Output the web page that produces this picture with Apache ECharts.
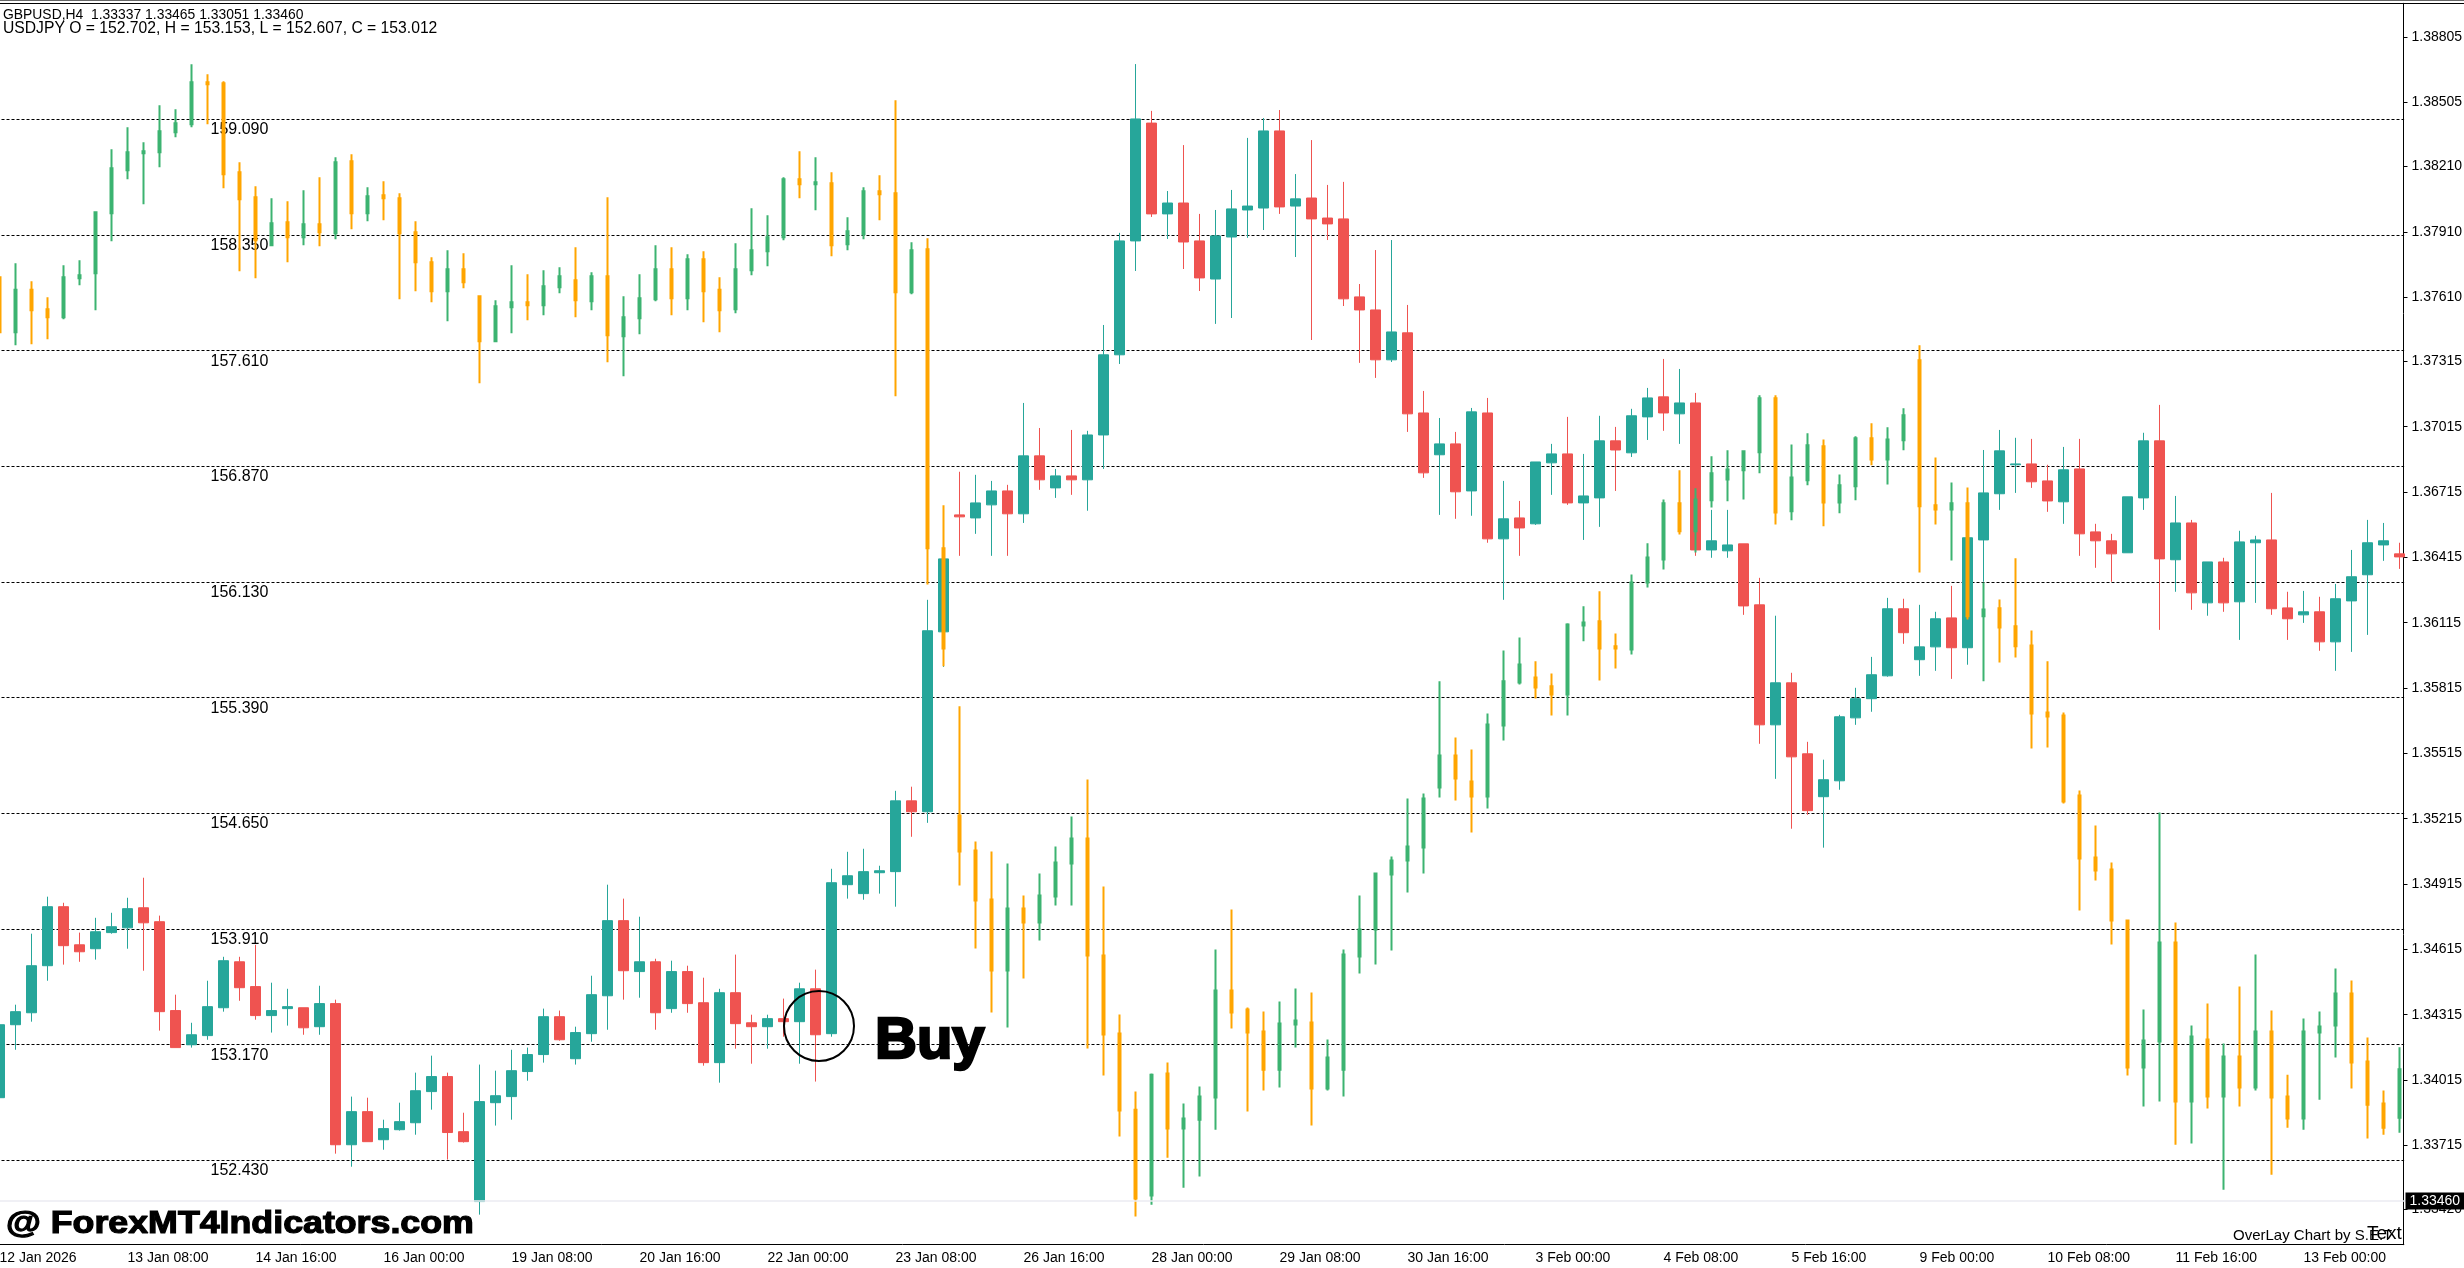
<!DOCTYPE html>
<html>
<head>
<meta charset="utf-8">
<title>GBPUSD,H4 overlay USDJPY</title>
<script src="https://cdn.jsdelivr.net/npm/echarts@6/dist/echarts.min.js"></script>
<style>
  html, body { margin: 0; padding: 0; background: #fff; }
  #chart { width: 2464px; height: 1268px; }
</style>
</head>
<body>
<div id="chart"></div>
<script>
// time axis labels, one every 8 H4 bars
var tickLabels = ["12 Jan 2026", "13 Jan 08:00", "14 Jan 16:00", "16 Jan 00:00", "19 Jan 08:00", "20 Jan 16:00",
  "22 Jan 00:00", "23 Jan 08:00", "26 Jan 16:00", "28 Jan 00:00", "29 Jan 08:00", "30 Jan 16:00", "3 Feb 00:00",
  "4 Feb 08:00", "5 Feb 16:00", "9 Feb 00:00", "10 Feb 08:00", "11 Feb 16:00", "13 Feb 00:00"];

// right axis
var priceTicks = [1.38805, 1.38505, 1.3821, 1.3791, 1.3761, 1.37315, 1.37015, 1.36715, 1.36415, 1.36115,
  1.35815, 1.35515, 1.35215, 1.34915, 1.34615, 1.34315, 1.34015, 1.33715, 1.3342];
var lastPrice = 1.3346;

// levels of the overlay (dotted lines with labels)
var yenLevels = [159.09, 158.35, 157.61, 156.87, 156.13, 155.39, 154.65, 153.91, 153.17, 152.43];

// rows are [open, close, low, high]
var gbpBars = [
  [1.33934,1.34269,1.33934,1.34292],[1.34269,1.34329,1.34154,1.34361],[1.34324,1.34540,1.34283,1.34687],[1.34540,1.34811,1.34471,1.34857],
  [1.34811,1.34632,1.34545,1.34829],[1.34636,1.34604,1.34558,1.34692],[1.34618,1.34696,1.34568,1.34760],[1.34692,1.34719,1.34687,1.34783],
  [1.34714,1.34802,1.34618,1.34852],[1.34806,1.34737,1.34517,1.34944],[1.34742,1.34329,1.34242,1.34770],[1.34334,1.34164,1.34164,1.34407],
  [1.34177,1.34223,1.34164,1.34278],[1.34219,1.34352,1.34200,1.34471],[1.34347,1.34563,1.34329,1.34581],[1.34558,1.34439,1.34379,1.34581],
  [1.34444,1.34311,1.34292,1.34636],[1.34311,1.34334,1.34233,1.34462],[1.34343,1.34352,1.34265,1.34434],[1.34347,1.34255,1.34223,1.34347],
  [1.34260,1.34366,1.34223,1.34448],[1.34366,1.33718,1.33677,1.34384],[1.33718,1.33870,1.33617,1.33939],[1.33870,1.33732,1.33732,1.33934],
  [1.33741,1.33792,1.33695,1.33833],[1.33787,1.33824,1.33783,1.33911],[1.33819,1.33966,1.33764,1.34049],[1.33962,1.34031,1.33879,1.34127],
  [1.34031,1.33774,1.33650,1.34049],[1.33778,1.33732,1.33728,1.33865],[1.33457,1.33916,1.33397,1.34086],[1.33911,1.33943,1.33806,1.34058],
  [1.33939,1.34058,1.33833,1.34154],[1.34054,1.34132,1.34012,1.34164],[1.34132,1.34306,1.34095,1.34343],[1.34306,1.34200,1.34196,1.34334],
  [1.34113,1.34233,1.34086,1.34260],[1.34228,1.34407,1.34191,1.34494],[1.34402,1.34747,1.34246,1.34912],[1.34747,1.34517,1.34384,1.34848],
  [1.34513,1.34558,1.34393,1.34765],[1.34558,1.34324,1.34246,1.34572],[1.34343,1.34513,1.34324,1.34563],[1.34513,1.34366,1.34324,1.34540],
  [1.34370,1.34095,1.34081,1.34485],[1.34095,1.34416,1.34003,1.34434],[1.34416,1.34274,1.34159,1.34591],[1.34278,1.34260,1.34090,1.34315],
  [1.34260,1.34297,1.34159,1.34315],[1.34297,1.34283,1.34214,1.34389],[1.34283,1.34434,1.34090,1.34462],[1.34434,1.34223,1.34008,1.34522],
  [1.34228,1.34921,1.34214,1.34985],[1.34912,1.34953,1.34848,1.35063],[1.34871,1.34972,1.34843,1.35077],[1.34967,1.34976,1.34871,1.34999],
  [1.34972,1.35297,1.34811,1.35343],[1.35297,1.35247,1.35132,1.35362],[1.35247,1.36078,1.35196,1.36220],[1.36073,1.36408,1.35912,1.36495],
  [1.36610,1.36601,1.36422,1.36808],[1.36596,1.36665,1.36523,1.36794],[1.36656,1.36720,1.36422,1.36766],[1.36720,1.36615,1.36422,1.36748],
  [1.36615,1.36881,1.36573,1.37124],[1.36881,1.36771,1.36725,1.37009],[1.36734,1.36789,1.36688,1.36821],[1.36789,1.36771,1.36702,1.37000],
  [1.36771,1.36977,1.36629,1.36996],[1.36977,1.37345,1.36821,1.37482],[1.37345,1.37868,1.37303,1.37905],[1.37868,1.38428,1.37730,1.38680],
  [1.38409,1.37992,1.37978,1.38465],[1.37992,1.38042,1.37877,1.38097],[1.38042,1.37863,1.37739,1.38308],[1.37868,1.37698,1.37638,1.37992],
  [1.37693,1.37891,1.37487,1.38010],[1.37886,1.38015,1.37514,1.38102],[1.38010,1.38028,1.37882,1.38341],[1.38019,1.38373,1.37918,1.38432],
  [1.38373,1.38024,1.37992,1.38469],[1.38028,1.38061,1.37794,1.38175],[1.38065,1.37969,1.37413,1.38331],[1.37973,1.37946,1.37872,1.38125],
  [1.37969,1.37602,1.37569,1.38139],[1.37611,1.37551,1.37308,1.37670],[1.37551,1.37322,1.37239,1.37826],[1.37322,1.37450,1.37312,1.37872],
  [1.37446,1.37074,1.36991,1.37574],[1.37078,1.36803,1.36780,1.37179],[1.36886,1.36936,1.36610,1.37055],[1.36936,1.36716,1.36592,1.36991],
  [1.36720,1.37083,1.36606,1.37101],[1.37078,1.36500,1.36482,1.37147],[1.36500,1.36592,1.36220,1.36766],[1.36596,1.36550,1.36422,1.36674],
  [1.36569,1.36853,1.36564,1.36853],[1.36849,1.36890,1.36702,1.36936],[1.36890,1.36665,1.36656,1.37060],[1.36665,1.36697,1.36495,1.36890],
  [1.36688,1.36950,1.36555,1.37065],[1.36950,1.36908,1.36720,1.37014],[1.36895,1.37065,1.36876,1.37097],[1.37060,1.37147,1.36954,1.37193],
  [1.37152,1.37078,1.36996,1.37326],[1.37074,1.37124,1.36936,1.37280],[1.37124,1.36449,1.36422,1.37170],[1.36449,1.36491,1.36413,1.36633],
  [1.36445,1.36472,1.36413,1.36633],[1.36477,1.36192,1.36151,1.36477],[1.36197,1.35646,1.35559,1.36321],[1.35646,1.35839,1.35398,1.36147],
  [1.35839,1.35499,1.35169,1.35885],[1.35513,1.35252,1.35233,1.35568],[1.35316,1.35394,1.35082,1.35486],[1.35389,1.35683,1.35348,1.35692],
  [1.35678,1.35766,1.35646,1.35816],[1.35766,1.35876,1.35706,1.35958],[1.35871,1.36179,1.35867,1.36229],[1.36179,1.36069,1.36018,1.36225],
  [1.35945,1.36004,1.35871,1.36197],[1.36004,1.36133,1.35894,1.36165],[1.36137,1.36000,1.35857,1.36284],[1.36000,1.36505,1.35922,1.36505],
  [1.36495,1.36711,1.36303,1.36908],[1.36707,1.36904,1.36633,1.37000],[1.36840,1.36844,1.36711,1.36964],[1.36844,1.36762,1.36734,1.36959],
  [1.36766,1.36674,1.36624,1.36840],[1.36670,1.36817,1.36569,1.36922],[1.36821,1.36523,1.36422,1.36959],[1.36532,1.36491,1.36367,1.36569],
  [1.36491,1.36431,1.36303,1.36523],[1.36436,1.36693,1.36436,1.36693],[1.36688,1.36950,1.36633,1.36987],[1.36950,1.36408,1.36082,1.37115],
  [1.36404,1.36573,1.36257,1.36697],[1.36573,1.36252,1.36174,1.36587],[1.36206,1.36394,1.36147,1.36394],[1.36394,1.36206,1.36165,1.36413],
  [1.36211,1.36486,1.36036,1.36537],[1.36482,1.36495,1.36206,1.36514],[1.36495,1.36179,1.36151,1.36711],[1.36183,1.36133,1.36036,1.36257],
  [1.36151,1.36165,1.36114,1.36261],[1.36165,1.36027,1.35986,1.36234],[1.36027,1.36225,1.35894,1.36293],[1.36215,1.36326,1.35981,1.36449],
  [1.36335,1.36482,1.36059,1.36587],[1.36472,1.36491,1.36399,1.36573],[1.36431,1.36417,1.36362,1.36482]
];

var usdjpyBars = [
  [158.079,157.727,157.727,158.085],[157.727,158.000,157.644,158.169],[158.000,157.868,157.650,158.054],[157.874,157.823,157.682,157.951],
  [157.823,158.079,157.810,158.156],[158.073,158.092,158.028,158.188],[158.105,158.495,157.868,158.495],[158.489,158.777,158.310,158.898],
  [158.764,158.879,158.706,159.039],[158.873,158.886,158.546,158.943],[158.879,159.014,158.783,159.180],[159.007,159.065,158.975,159.154],
  [159.058,159.327,159.039,159.442],[159.327,159.314,159.058,159.378],[159.321,158.738,158.649,159.334],[158.751,158.578,158.118,158.815],
  [158.591,158.316,158.073,158.662],[158.284,158.425,158.278,158.585],[158.431,158.335,158.175,158.566],[158.335,158.418,158.284,158.636],
  [158.418,158.367,158.278,158.719],[158.361,158.815,158.322,158.847],[158.822,158.489,158.386,158.866],[158.489,158.598,158.438,158.655],
  [158.604,158.585,158.444,158.694],[158.585,158.361,157.938,158.617],[158.367,158.175,157.990,158.438],[158.175,157.990,157.919,158.207],
  [157.990,158.130,157.798,158.252],[158.130,158.047,158.009,158.233],[157.958,157.670,157.401,157.958],[157.670,157.894,157.663,157.932],
  [157.887,157.919,157.721,158.156],[157.919,157.900,157.804,158.098],[157.900,158.022,157.836,158.124],[158.015,158.086,157.977,158.143],
  [158.060,157.932,157.823,158.271],[157.926,158.086,157.868,158.111],[158.086,157.708,157.535,158.591],[157.702,157.823,157.446,157.958],
  [157.817,157.945,157.714,158.098],[157.938,158.130,157.926,158.284],[158.130,157.945,157.836,158.271],[157.945,158.194,157.868,158.226],
  [158.194,157.990,157.791,158.246],[158.000,157.868,157.727,158.079],[157.874,158.130,157.849,158.297],[158.124,158.252,158.092,158.521],
  [158.246,158.335,158.150,158.476],[158.335,158.706,158.316,158.719],[158.706,158.674,158.585,158.886],[158.674,158.687,158.508,158.847],
  [158.681,158.284,158.214,158.751],[158.290,158.374,158.252,158.463],[158.354,158.630,158.322,158.655],[158.630,158.610,158.444,158.732],
  [158.617,157.983,157.318,159.212],[157.983,158.252,157.970,158.303],[158.258,156.345,156.114,158.329],[156.345,155.705,155.590,156.620],
  [154.636,154.406,154.188,155.334],[154.412,154.092,153.785,154.470],[154.098,153.644,153.375,154.406],[153.644,154.041,153.279,154.329],
  [154.041,153.951,153.593,154.124],[153.951,154.124,153.836,154.265],[154.118,154.335,154.060,154.438],[154.329,154.489,154.060,154.630],
  [154.489,153.740,153.145,154.866],[153.740,153.234,152.972,154.182],[153.241,152.748,152.582,153.362],[152.754,152.185,152.070,152.870],
  [152.204,152.978,152.146,152.985],[152.985,152.633,152.447,153.055],[152.633,152.697,152.255,152.793],[152.690,152.838,152.326,152.902],
  [152.831,153.516,152.626,153.778],[153.516,153.375,153.273,154.034],[153.394,153.247,152.742,153.407],[153.254,153.010,152.876,153.382],
  [153.010,153.305,152.895,153.446],[153.298,153.324,153.151,153.529],[153.311,152.889,152.652,153.503],[152.889,153.087,152.876,153.202],
  [153.010,153.746,152.838,153.778],[153.734,153.906,153.625,154.124],[153.906,154.265,153.682,154.271],[154.258,154.348,153.772,154.374],
  [154.348,154.438,154.143,154.745],[154.431,154.745,154.265,154.777],[154.815,155.020,154.751,155.494],[155.020,154.873,154.732,155.135],
  [154.854,154.758,154.527,155.058],[154.758,155.218,154.681,155.289],[155.212,155.494,155.116,155.692],[155.487,155.602,155.474,155.775],
  [155.519,155.455,155.385,155.622],[155.462,155.410,155.276,155.545],[155.410,155.858,155.276,155.865],[155.852,155.871,155.750,155.974],
  [155.878,155.705,155.500,156.070],[155.718,155.705,155.577,155.801],[155.698,156.127,155.666,156.178],[156.127,156.287,156.095,156.377],
  [156.274,156.633,156.210,156.658],[156.633,156.454,156.434,156.844],[156.454,156.658,156.319,156.729],[156.652,156.825,156.607,156.934],
  [156.786,156.850,156.646,156.972],[156.844,156.966,156.658,156.972],[156.959,157.305,156.825,157.324],[157.305,156.575,156.498,157.324],
  [156.582,156.799,156.524,157.010],[156.780,157.004,156.748,157.081],[156.998,156.639,156.486,157.042],[156.639,156.748,156.569,156.818],
  [156.742,157.049,156.652,157.062],[157.049,156.914,156.876,157.145],[156.914,157.042,156.754,157.119],[157.036,157.196,156.972,157.241],
  [157.548,156.614,156.191,157.644],[156.620,156.594,156.498,156.927],[156.594,156.633,156.268,156.767],[156.633,155.910,155.890,156.735],
  [155.910,155.954,155.494,156.127],[155.961,155.839,155.615,156.018],[155.846,155.718,155.647,156.281],[155.724,155.289,155.065,155.820],
  [155.295,155.270,155.071,155.622],[155.276,154.726,154.713,155.295],[154.764,154.361,154.028,154.796],[154.367,154.284,154.220,154.572],
  [154.290,153.964,153.810,154.335],[153.964,153.023,152.972,153.964],[153.023,153.196,152.774,153.394],[153.190,153.823,152.806,154.655],
  [153.823,152.806,152.530,153.951],[152.806,153.222,152.537,153.292],[153.202,152.838,152.761,153.433],[152.838,153.094,152.242,153.177],
  [153.094,152.895,152.774,153.542],[152.895,153.254,152.876,153.746],[153.254,152.831,152.338,153.388],[152.838,152.697,152.639,152.978],
  [152.697,153.254,152.626,153.337],[153.247,153.286,152.818,153.382],[153.292,153.497,153.087,153.657],[153.497,153.055,152.889,153.580],
  [153.062,152.786,152.569,153.215],[152.793,152.639,152.594,152.876],[152.702,153.012,152.607,153.153]
];

var FONT = '"Liberation Sans", Arial, sans-serif';

var categories = [];
for (var i = 0; i < gbpBars.length; i++) {
  categories.push(i % 8 === 0 ? tickLabels[i / 8] : String(i));
}

var myChart = echarts.init(document.getElementById('chart'));

var option = {
  animation: false,
  backgroundColor: '#ffffff',
  grid: { left: -8.5, top: 3.3, width: 2416, height: 1241.4, containLabel: false, outerBoundsMode: 'none' },
  xAxis: {
    type: 'category',
    data: categories,
    boundaryGap: true,
    axisLine: { lineStyle: { color: '#000', width: 1 } },
    axisTick: { alignWithLabel: true, interval: 7, length: 3, lineStyle: { color: '#000' } },
    axisLabel: { interval: 7, align: 'left', margin: 6, color: '#000', fontFamily: FONT, fontSize: 14, hideOverlap: false },
    splitLine: { show: false }
  },
  yAxis: [
    {
      type: 'value',
      position: 'right',
      offset: -4,
      z: 1.95,
      min: 1.33259,
      max: 1.38959,
      axisLine: { show: true, lineStyle: { color: '#000', width: 1 } },
      axisTick: { show: true, length: 4, customValues: priceTicks, lineStyle: { color: '#000' } },
      axisLabel: {
        customValues: priceTicks,
        margin: 8,
        color: '#000',
        fontFamily: FONT,
        fontSize: 14,
        formatter: function (v) { return v.toFixed(5); }
      },
      splitLine: { show: false }
    },
    {
      type: 'value',
      show: false,
      min: 151.89,
      max: 159.832,
      splitLine: { show: false }
    }
  ],
  series: [
    {
      name: 'GBPUSD',
      type: 'candlestick',
      yAxisIndex: 0,
      z: 2,
      barWidth: 10,
      data: gbpBars,
      itemStyle: { color: '#26a69a', color0: '#ef5350', borderColor: '#26a69a', borderColor0: '#ef5350', borderWidth: 1 },
      markLine: {
        silent: true,
        symbol: 'none',
        precision: 5,
        z: 6,
        animation: false,
        data: [{ yAxis: lastPrice }],
        lineStyle: { color: '#ebebf2', type: 'solid', width: 1.5 },
        label: {
          position: 'end',
          distance: 0,
          offset: [-2, 0],
          formatter: function () { return lastPrice.toFixed(5); },
          color: '#fff',
          backgroundColor: '#000',
          padding: [2, 4, 1, 4],
          fontFamily: FONT,
          fontSize: 14
        }
      }
    },
    {
      name: 'USDJPY',
      type: 'candlestick',
      yAxisIndex: 1,
      z: 3,
      barWidth: 3,
      data: usdjpyBars,
      itemStyle: { color: '#3cb371', color0: '#ffa500', borderColor: '#3cb371', borderColor0: '#ffa500', borderWidth: 2 },
      markLine: {
        silent: true,
        symbol: 'none',
        z: 1,
        animation: false,
        data: yenLevels.map(function (v) { return { yAxis: v }; }),
        lineStyle: { color: '#000', type: [3, 2], width: 1.2 },
        label: {
          position: 'insideStartBottom',
          distance: 2.5,
          padding: [0, 0, 0, 216.5],
          formatter: function (p) { return Number(p.value).toFixed(3); },
          color: '#000',
          fontFamily: FONT,
          fontSize: 16
        }
      }
    }
  ],
  graphic: {
    elements: [
      { type: 'rect', z: 1.9, silent: true, shape: { x: 2404.2, y: 0, width: 60, height: 1268 }, style: { fill: '#fff' } },
      { type: 'rect', z: 7, silent: true, shape: { x: 0, y: 0, width: 2464, height: 1 }, style: { fill: '#666' } },
      { type: 'rect', z: 7, silent: true, shape: { x: 0, y: 3, width: 2464, height: 1 }, style: { fill: '#000' } },
      { type: 'text', z: 7, silent: true, x: 3, y: 8, style: { text: 'GBPUSD,H4  1.33337 1.33465 1.33051 1.33460', font: '13.9px ' + FONT, fill: '#000' } },
      { type: 'text', z: 7, silent: true, x: 3, y: 21, style: { text: 'USDJPY O = 152.702, H = 153.153, L = 152.607, C = 153.012', font: '15.7px ' + FONT, fill: '#000' } },
      { type: 'circle', z: 8, silent: true, shape: { cx: 819, cy: 1026, r: 35 }, style: { fill: 'none', stroke: '#000', lineWidth: 2 } },
      { type: 'text', z: 8, silent: true, x: 875, y: 1013, style: { text: 'Buy', font: 'bold 58px ' + FONT, fill: '#000', stroke: '#000', lineWidth: 2.5 } },
      { type: 'text', z: 8, silent: true, x: 6, y: 1209, scaleX: 1.153, style: { text: '@ ForexMT4Indicators.com', font: 'bold 31px ' + FONT, fill: '#000', stroke: '#000', lineWidth: 1.2 } },
      { type: 'text', z: 7, silent: true, x: 2233, y: 1228, style: { text: 'OverLay Chart by S.E.T', font: '15px ' + FONT, fill: '#000' } },
      { type: 'text', z: 7, silent: true, x: 2367, y: 1224, style: { text: 'Text', font: '19px ' + FONT, fill: '#000' } }
    ]
  }
};

myChart.setOption(option);
</script>
</body>
</html>
